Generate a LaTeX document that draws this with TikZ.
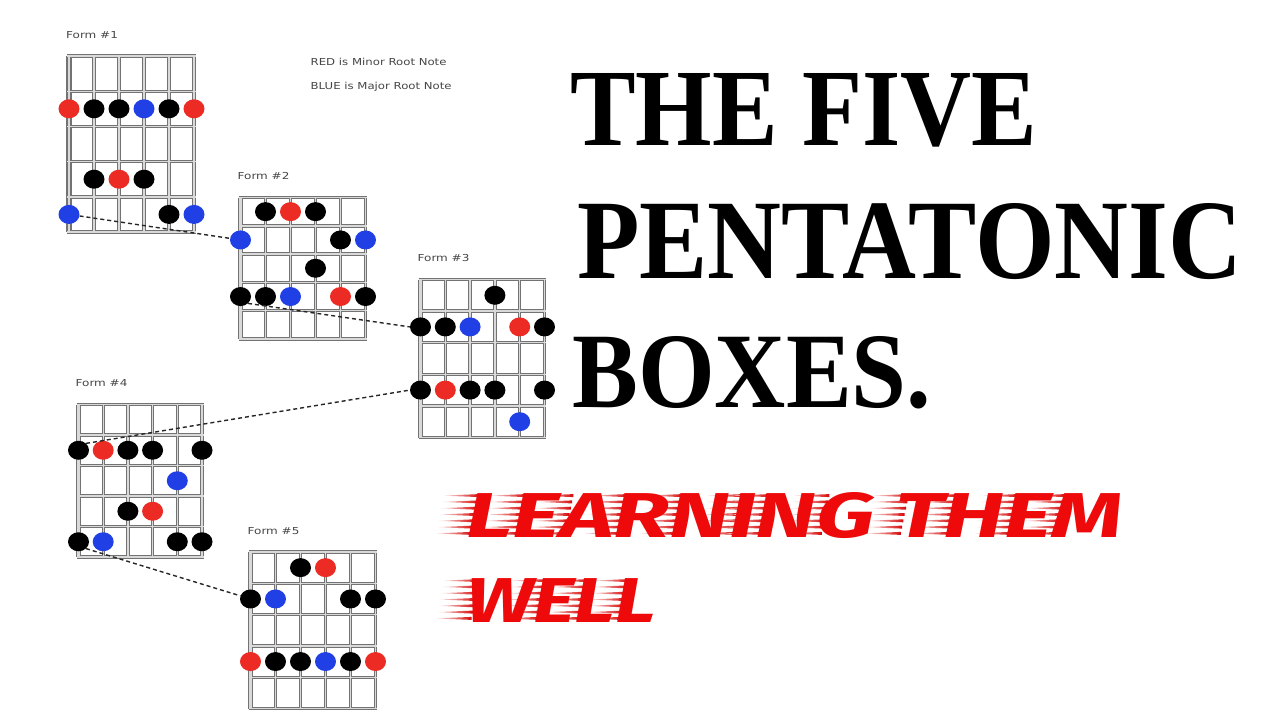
\documentclass[tikz,border=0pt]{standalone}
\usepackage{fontspec}
\usepackage{graphicx}
\setmainfont{Liberation Serif}
\newfontfamily\labelfont{DejaVu Sans}
\newfontfamily\redfont{Fira Sans}
\usetikzlibrary{shapes.geometric}
\pgfdeclarelayer{background}
\pgfsetlayers{background,main}
\definecolor{rootred}{RGB}{236,44,36}
\definecolor{rootblue}{RGB}{32,64,230}
\definecolor{streakred}{RGB}{238,10,10}
\definecolor{labelgray}{RGB}{70,70,70}
\tikzset{
  fretouter/.style={line width=3.4pt, draw=black!55},
  fretinner/.style={line width=1.4pt, draw=black!15},
  dotbase/.style={ellipse, inner sep=0pt, minimum width=21pt, minimum height=19pt},
  dotk/.style={dotbase, fill=black},
  dotr/.style={dotbase, fill=rootred},
  dotb/.style={dotbase, fill=rootblue},
  formlabel/.style={anchor=base west, inner sep=0pt, text=labelgray, font=\labelfont\fontsize{9.6}{11}\selectfont},
  link/.style={draw=black!85, dash pattern=on 4pt off 3pt, line width=1.4pt},
  titletext/.style={anchor=base west, inner sep=0pt, text=black},
  redtext/.style={anchor=base west, inner sep=0pt, outer sep=0pt, text=streakred},
  streak/.style={left color=streakred!4!white, right color=streakred!90!black},
}
\newcommand\drawboard{%
  \foreach \i in {0,...,5} \draw[fretouter] ({\bx+\i*\bdx},\by) -- ({\bx+\i*\bdx},{\by+5*\bdy});
  \draw[fretouter, line width=5.2pt] (\bx,\by) -- (\bx,{\by+5*\bdy});
  \foreach \j in {0,...,5} \draw[fretouter] ({\bx-2},{\by+\j*\bdy}) -- ({\bx+5*\bdx+1.5},{\by+\j*\bdy});
  \foreach \i in {0,...,5} \draw[fretinner] ({\bx+\i*\bdx},\by) -- ({\bx+\i*\bdx},{\by+5*\bdy});
  \draw[fretinner, line width=2.2pt] (\bx,\by) -- (\bx,{\by+5*\bdy});
  \foreach \j in {0,...,5} \draw[fretinner] ({\bx-2},{\by+\j*\bdy}) -- ({\bx+5*\bdx+1.5},{\by+\j*\bdy});
  \node[formlabel] (form\fn) at ({\bx-3},{\by-17.8}) {\scalebox{1.25}[1]{Form \#\fn}};
}
\newcommand\fd[3]{\node[#1] (f\fn s#2r#3) at ({\bx+#2*\bdx},{\by+(#3-0.5)*\bdy}) {};}
\newlength\tmpl
% offsets (in pt, after scaling) of each letter: #1 macro to define, #2 x scale, #3 prefixes
\newcommand\makeoffsets[3]{%
  \gdef#1{}%
  \foreach \pref in {#3} {%
    \settowidth\tmpl{\redfont\bfseries\itshape\pref}%
    \pgfmathsetmacro\lso{#2*\tmpl}%
    \ifx#1\empty\xdef#1{\lso}\else\xdef#1{#1,\lso}\fi
  }%
}
% streaks to the left of each letter of text node #1, at offsets #2
\newcommand\speedstreaks[2]{%
  \begin{pgfonlayer}{background}
  \begin{scope}[shift={(#1.base west)}]
  \foreach \lso in #2 {
      \foreach \kk in {0,...,6} {
        \pgfmathsetmacro\hh{3.6+6.3*\kk}
        \pgfmathsetmacro\xr{\lso+5+0.2*\hh}
        \shade[streak] ({\xr-37},-\hh) -- (\xr,{-\hh-1.5}) -- (\xr,{-\hh+1.5}) -- cycle;
      }
  }
  \end{scope}
  \end{pgfonlayer}
}
\newlength\natw \newlength\natwb \newlength\nath
\begin{document}
\settowidth\natw{\redfont\bfseries\itshape LEARNING THEM}%
\settowidth\natwb{\redfont\bfseries\itshape WELL}%
\settoheight\nath{\redfont\bfseries\itshape LEARNING THEM}%
\pgfmathsetmacro\rsx{657/\natw}%
\pgfmathsetmacro\rsxb{190/\natwb}%
\pgfmathsetmacro\rsy{45/\nath}%
\makeoffsets\offsA{\rsx}{\relax,L,LE,LEA,LEAR,LEARN,LEARNI,LEARNIN,LEARNING\ ,LEARNING\ T,LEARNING\ TH,LEARNING\ THE}%
\makeoffsets\offsB{\rsxb}{\relax,W,WE,WEL}%
\begin{tikzpicture}[x=1pt,y=-1pt]
\begin{pgfonlayer}{background}
\fill[white] (0,0) rectangle (1280,720);
\end{pgfonlayer}
\useasboundingbox (0,0) rectangle (1280,720);

% ---------- Form 1
\def\fn{1}\def\bx{69}\def\by{56}\def\bdx{25}\def\bdy{35.2}
\drawboard
\fd{dotr}{0}{2}\fd{dotk}{1}{2}\fd{dotk}{2}{2}\fd{dotb}{3}{2}\fd{dotk}{4}{2}\fd{dotr}{5}{2}
\fd{dotk}{1}{4}\fd{dotr}{2}{4}\fd{dotk}{3}{4}
\fd{dotb}{0}{5}\fd{dotk}{4}{5}\fd{dotb}{5}{5}

% ---------- Form 2
\def\fn{2}\def\bx{240.5}\def\by{197.5}\def\bdx{25}\def\bdy{28.3}
\drawboard
\fd{dotk}{1}{1}\fd{dotr}{2}{1}\fd{dotk}{3}{1}
\fd{dotb}{0}{2}\fd{dotk}{4}{2}\fd{dotb}{5}{2}
\fd{dotk}{3}{3}
\fd{dotk}{0}{4}\fd{dotk}{1}{4}\fd{dotb}{2}{4}\fd{dotr}{4}{4}\fd{dotk}{5}{4}

% ---------- Form 3
\def\fn{3}\def\bx{420.5}\def\by{279.5}\def\bdx{24.8}\def\bdy{31.6}
\drawboard
\fd{dotk}{3}{1}
\fd{dotk}{0}{2}\fd{dotk}{1}{2}\fd{dotb}{2}{2}\fd{dotr}{4}{2}\fd{dotk}{5}{2}
\fd{dotk}{0}{4}\fd{dotr}{1}{4}\fd{dotk}{2}{4}\fd{dotk}{3}{4}\fd{dotk}{5}{4}
\fd{dotb}{4}{5}

% ---------- Form 4
\def\fn{4}\def\bx{78.5}\def\by{404.5}\def\bdx{24.7}\def\bdy{30.5}
\drawboard
\fd{dotk}{0}{2}\fd{dotr}{1}{2}\fd{dotk}{2}{2}\fd{dotk}{3}{2}\fd{dotk}{5}{2}
\fd{dotb}{4}{3}
\fd{dotk}{2}{4}\fd{dotr}{3}{4}
\fd{dotk}{0}{5}\fd{dotb}{1}{5}\fd{dotk}{4}{5}\fd{dotk}{5}{5}

% ---------- Form 5
\def\fn{5}\def\bx{250.5}\def\by{552}\def\bdx{25}\def\bdy{31.3}
\drawboard
\fd{dotk}{2}{1}\fd{dotr}{3}{1}
\fd{dotk}{0}{2}\fd{dotb}{1}{2}\fd{dotk}{4}{2}\fd{dotk}{5}{2}
\fd{dotr}{0}{4}\fd{dotk}{1}{4}\fd{dotk}{2}{4}\fd{dotb}{3}{4}\fd{dotk}{4}{4}\fd{dotr}{5}{4}

% ---------- dashed links
\draw[link] (f1s0r5) -- (f2s0r2);
\draw[link] (f2s0r4.south east) -- (f3s0r2.west);
\draw[link] (f4s0r2.north east) -- (f3s0r4.west);
\draw[link] (f4s0r5.south east) -- (f5s0r2);

% ---------- legend
\node[formlabel] (leg1) at (310.5,65.5) {\scalebox{1.22}[1]{RED is Minor Root Note}};
\node[formlabel] (leg2) at (310.5,89.5) {\scalebox{1.22}[1]{BLUE is Major Root Note}};

% ---------- title
\node[titletext] (t1) at (570,145) {\resizebox{467pt}{72pt}{\bfseries THE FIVE}};
\node[titletext] (t2) at (577,278) {\resizebox{665pt}{75pt}{\bfseries PENTATONIC}};
\node[titletext] (t3) at (572,407) {\resizebox{359pt}{71pt}{\bfseries BOXES.}};

% ---------- red speed text
\node[redtext] (red1) at (466,537) {\scalebox{\rsx}[\rsy]{\redfont\bfseries\itshape LEARNING THEM}};
\node[redtext] (red2) at (466,622) {\scalebox{\rsxb}[\rsy]{\redfont\bfseries\itshape WELL}};
\speedstreaks{red1}{\offsA}
\speedstreaks{red2}{\offsB}
\end{tikzpicture}
\end{document}
